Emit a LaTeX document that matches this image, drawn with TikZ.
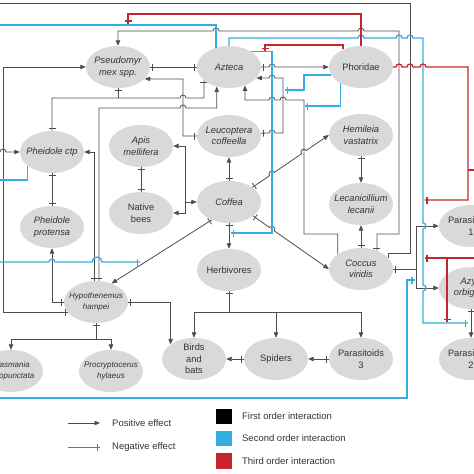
\documentclass[tikz,border=0pt]{standalone}
\usepackage{fontspec}
\setmainfont{Liberation Sans}
\usepackage{tikz}
\usetikzlibrary{positioning,shapes.geometric,arrows.meta,decorations.markings}
\definecolor{firstord}{HTML}{4D4D4D}
\definecolor{secondord}{HTML}{33AEE3}
\definecolor{thirdord}{HTML}{C1272D}
\definecolor{nodegray}{HTML}{D9D9D9}
\newcommand\jumpr{arc[start angle=180,end angle=0,radius=3pt]}
\newcommand\jumpl{arc[start angle=0,end angle=180,radius=3pt]}
\newcommand\jumpd{arc[start angle=90,end angle=-90,radius=3pt]}
\tikzset{
  species/.style={ellipse, fill=nodegray, minimum width=64pt, minimum height=42pt, inner sep=-6pt, align=center, text=black!80, font=\fontsize{9.3}{11.5}\selectfont},
  sp/.style={species, font=\fontsize{9.3}{11.5}\selectfont\itshape},
  spsmall/.style={species, font=\fontsize{8}{10.5}\selectfont\itshape},
  eff/.style={color=firstord, line width=0.8pt},
  sec/.style={color=secondord, line width=1.3pt},
  thr/.style={color=thirdord, line width=1.3pt},
  tee/.style={postaction={decorate, decoration={markings, mark=at position -2.5pt with {\draw[-] (0,-3.5pt) -- (0,3.5pt);}}}},
  btee/.style={postaction={decorate, decoration={markings, mark=at position 2.5pt with {\draw[-] (0,-3.5pt) -- (0,3.5pt);}}}},
  legtext/.style={inner sep=0pt, text=black!80, font=\fontsize{9.5}{11}\selectfont},
  legbox/.style={minimum size=15.5pt, inner sep=0pt}
}

\begin{document}
\begin{tikzpicture}[x=1pt, y=-1pt, >={Triangle[length=5.5pt,width=4.5pt]}]
  \useasboundingbox (0,0) rectangle (474,474);
  \clip (0,0) rectangle (474,474);

  \node[sp] (pseudo) at (118,67) {Pseudomyr\\mex spp.};
  \node[sp] (azteca) at (229,67) {Azteca};
  \node[species] (phoridae) at (361,67) {Phoridae};
  \node[sp] (pheidolectp) at (52,152) {Pheidole ctp};
  \node[sp] (apis) at (141,146) {Apis\\mellifera};
  \node[sp] (leuco) at (229,136) {Leucoptera\\coffeella};
  \node[sp] (hemileia) at (361,135) {Hemileia\\vastatrix};
  \node[species] (nbees) at (141,213) {Native\\bees};
  \node[sp] (coffea) at (229,202) {Coffea};
  \node[sp] (lecan) at (361,204) {Lecanicillium\\lecanii};
  \node[sp] (protensa) at (52,227) {Pheidole\\protensa};
  \node[species] (herbiv) at (229,270) {Herbivores};
  \node[sp] (coccus) at (361,269) {Coccus\\viridis};
  \node[spsmall] (hypo) at (96,302) {Hypothenemus\\hampei};
  \node[spsmall] (wasm) at (11,371) {Wasmania\\auropunctata};
  \node[spsmall] (procry) at (111,371) {Procryptocerus\\hylaeus};
  \node[species] (birds) at (194,359) {Birds\\and\\bats};
  \node[species] (spiders) at (276,359) {Spiders};
  \node[species] (paras3) at (361,359) {Parasitoids\\3};
  \node[species] (paras1) at (471,226) {Parasitoids\\1};
  \node[sp] (azya) at (471,288) {Azya\\orbigera};
  \node[species] (paras2) at (471,359) {Parasitoids\\2};

  % first order
  \draw[eff, ->, btee] (hypo.200) -| (3,67) -- (pseudo.west);
  \draw[eff, ->, btee] (hypo.west) -| (protensa.south);
  \draw[eff, ->, btee] (hypo.93) |- (pheidolectp.east);
  \draw[eff, ->, btee] (hypo.82) |- (180,108) \jumpr -| (azteca.238);
  \draw[eff, btee, tee] (pheidolectp.north) |- (180,98) \jumpr -| (azteca.208);
  \draw[eff, btee] (pseudo.south) -- (pseudo.south |- 0,98);
  \draw[eff, btee, tee] (pseudo.east) -- (azteca.west);
  \draw[eff, ->, btee] (leuco.west) -| (183,79) -- (pseudo.336);
  \draw[eff, ->] (-6,152) -- (0,152) \jumpr -- (pheidolectp.west);
  \draw[eff, btee, tee] (pheidolectp.south) -- (protensa.north);
  \draw[eff, btee, tee] (apis.south) -- (nbees.north);
  \draw[eff, <->] (apis.east) -| (185,213) -- (nbees.east);
  \draw[eff, ->] (coffea.west -| 185,0) -- (coffea.west);
  \draw[eff, ->, btee] (coffea.north) -- (leuco.south);
  \draw[eff, ->, btee] (leuco.5) -- (269,133) \jumpr -| (283,78) -- (275,78) \jumpl -- (azteca.338);
  \draw[eff, ->, btee] (azteca.east) -- (269,67) \jumpr -- (phoridae.west);
  \draw[eff, ->] (coccus.148) |- (304,234) -- (304,100) -- (286,100) \jumpl -- (275,100) \jumpl -| (azteca.311);
  \draw[eff, ->, btee] (coccus.49) |- (399,234) -- (399,31) -- (364,31) \jumpl -- (219,31) \jumpl -| (pseudo.north);
  \draw[eff] (-6,3) -| (410,253) -| (coccus.23);
  \draw[eff, btee] (coccus.east) -- (416,269);
  \draw[eff, <->] (paras1.west) -| (416,288) -- (azya.west);
  \draw[eff, ->, btee] (azya.south) -- (paras2.north);
  \draw[eff, ->, btee] (hemileia.south) -- (lecan.north);
  \draw[eff, ->, btee] (coccus.north) -- (lecan.south);
  \draw[eff, ->, btee] (coffea.32) -- (269.5,175.7) arc[start angle=214.4,end angle=34.4,radius=3pt] -- (301.5,153.8) arc[start angle=214.4,end angle=34.4,radius=3pt] -- (hemileia.west);
  \draw[eff, ->, btee] (coffea.330) -- (269.5,227.5) arc[start angle=145.1,end angle=-34.9,radius=3pt] -- (coccus.west);
  \draw[eff, ->, btee] (coffea.226) -- (hypo.50);
  \draw[eff, ->, btee] (coffea.south) -- (herbiv.north);
  \draw[eff, btee] (herbiv.south) -- (herbiv.south |- 0,312);
  \draw[eff, <->] (birds.north) |- (361,312) -- (paras3.north);
  \draw[eff, ->] (spiders.north |- 0,312) -- (spiders.north);
  \draw[eff, ->, btee] (spiders.west) -- (birds.east);
  \draw[eff, ->, btee] (paras3.west) -- (spiders.east);
  \draw[eff, ->, btee] (hypo.east) -| (birds.148);
  \draw[eff, btee] (hypo.south) -- (hypo.south |- 0,339);
  \draw[eff, <->] (wasm.north) |- (111,339) -- (procry.north);

  % second order
  \draw[sec] (-6,25) -| (azteca.124);
  \draw[sec, tee] (azteca.north) |- (358,38) \jumpr -- (396,38) \jumpr -- (407,38) \jumpr -- (423,38) -- (423,223) \jumpd -- (423,285) \jumpd -- (423,323) -- (468,323);
  \draw[sec, tee] (azteca.34) -| (272,233) -- (231,233);
  \draw[sec, tee] (phoridae.195) -| (304,90) -- (285,90);
  \draw[sec, tee] (phoridae.219) |- (305,106);
  \draw[sec] (-6,180) -| (pheidolectp.210);
  \draw[sec, tee] (-6,262) -- (49,262) \jumpr -- (92,262) arc[start angle=180,end angle=0,radius=5pt] -- (140,262);
  \draw[sec, tee] (-6,398) -| (407,280) -- (414.5,280);

  % third order
  \draw[thr, tee] (phoridae.north) |- (128,14) -- (128,23.5);
  \draw[thr, tee] (phoridae.136) |- (265,45) -- (265,51);
  \draw[thr, tee] (phoridae.east) -- (396,67) \jumpr -- (407,67) \jumpr -- (420,67) \jumpr -| (468,200) -- (424.5,200);
  \draw[thr] (468,170) -- (480,170);
  \draw[thr, tee] (480,258) -- (424.5,258);
  \draw[thr, tee] (447,258) -- (447,322);

  % legend
  \node[legtext, anchor=west] (postext) at (112,423) {Positive effect};
  \node[legtext, anchor=west] (negtext) at (112,447) {Negative effect};
  \draw[eff, ->] ([xshift=-44pt]postext.west) -- ([xshift=-12pt]postext.west);
  \draw[eff, tee, color=black!55] ([xshift=-44pt]negtext.west) -- ([xshift=-12pt]negtext.west);
  \node[legbox, fill=black] (firstbox) at (224,416.5) {};
  \node[legbox, fill=secondord] (secondbox) at (224,438.5) {};
  \node[legbox, fill=thirdord] (thirdbox) at (224,461) {};
  \node[legtext, right=10pt of firstbox] (firsttext) {First order interaction};
  \node[legtext, right=10pt of secondbox] (secondtext) {Second order interaction};
  \node[legtext, right=10pt of thirdbox] (thirdtext) {Third order interaction};
\end{tikzpicture}
\end{document}
